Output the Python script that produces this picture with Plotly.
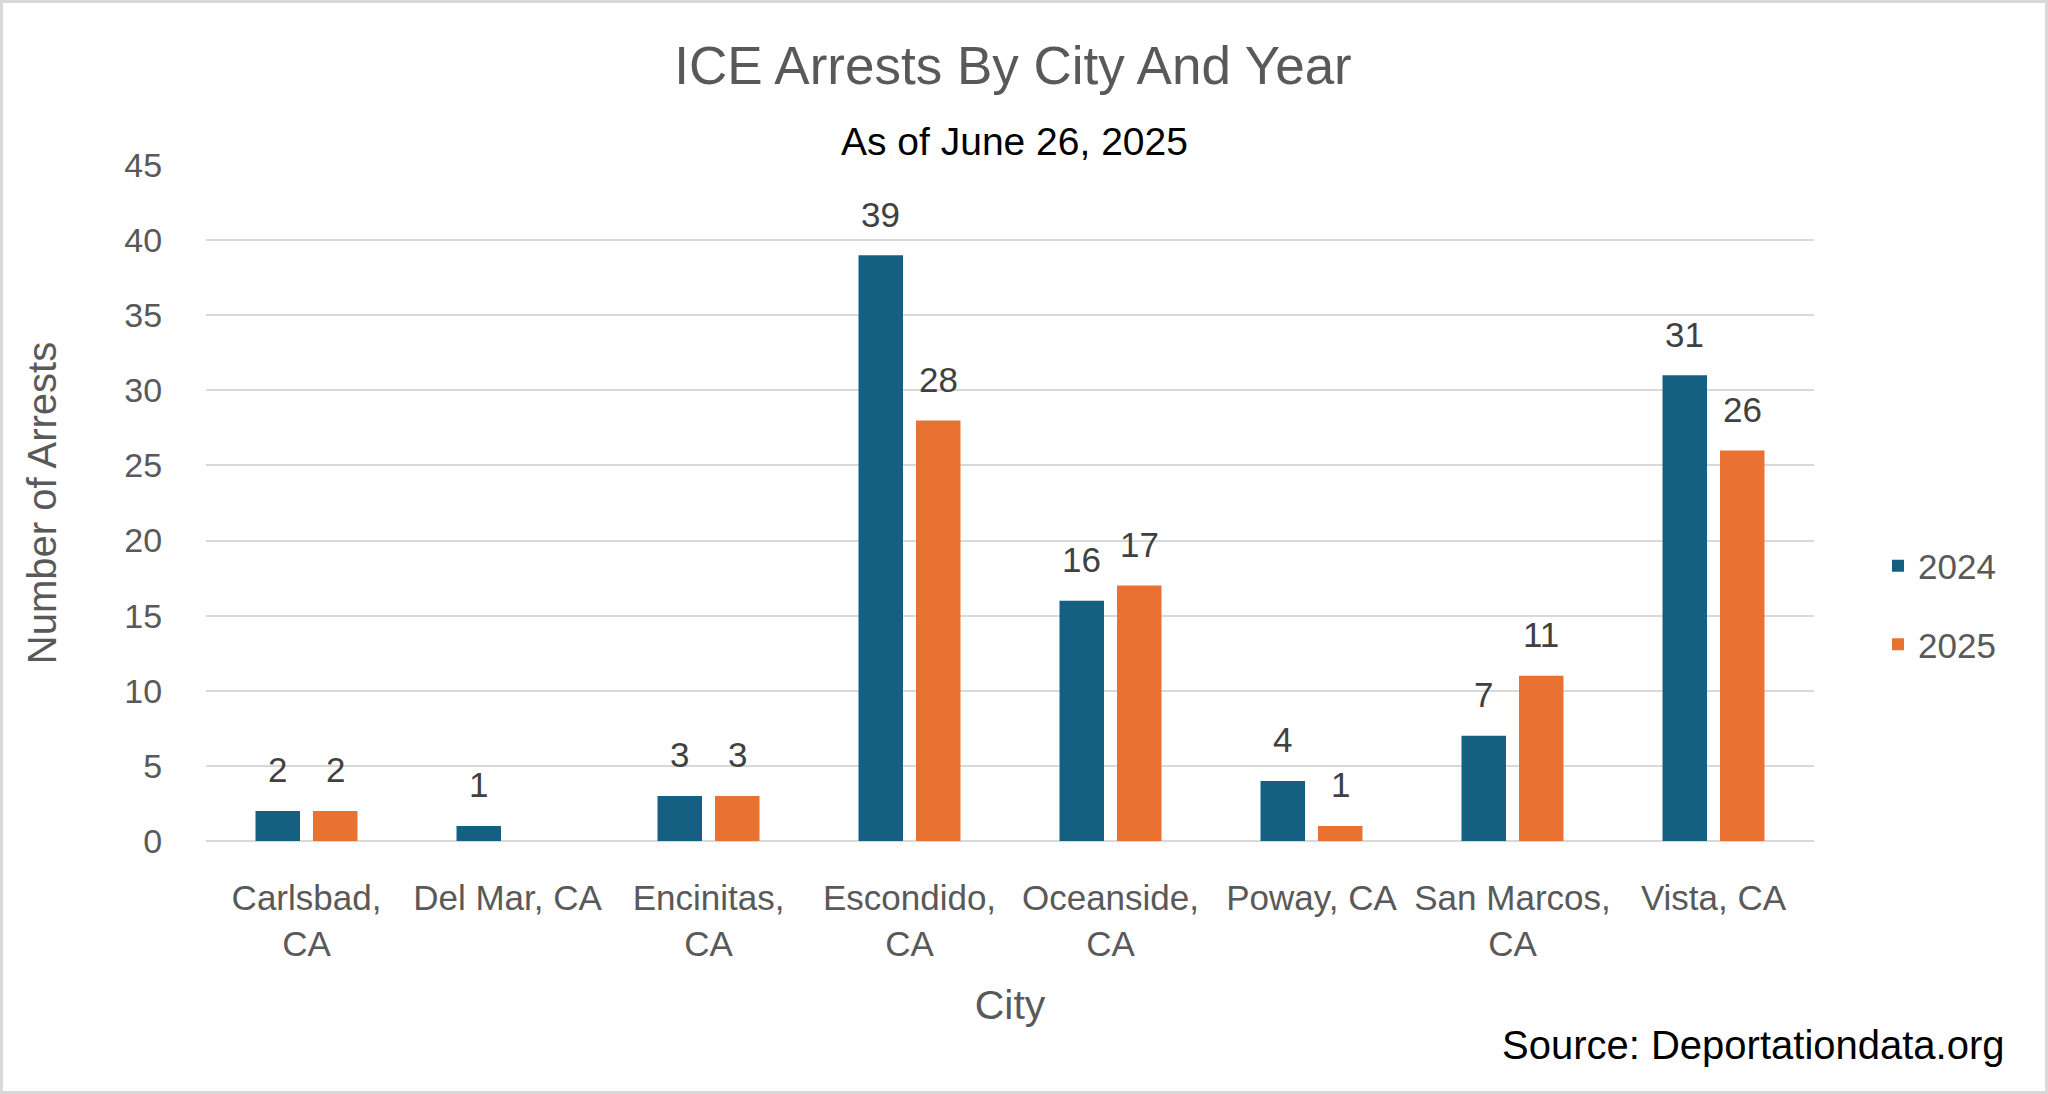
import plotly.graph_objects as go

cities = ["Carlsbad,<br>CA", "Del Mar, CA", "Encinitas,<br>CA", "Escondido,<br>CA",
          "Oceanside,<br>CA", "Poway, CA", "San Marcos,<br>CA", "Vista, CA"]
arrests_2024 = [2, 1, 3, 39, 16, 4, 7, 31]
arrests_2025 = [2, None, 3, 28, 17, 1, 11, 26]
series_names = ["2024", "2025"]
colors = ["#156082", "#E97132"]

FONT = "Liberation Sans, Arial, sans-serif"
GRAY = "#595959"

# plot area in pixels
L, R, T, B = 206, 1814, 165, 841
W, H = 2048, 1094

fig = go.Figure()
for name, vals, col in zip(series_names, [arrests_2024, arrests_2025], colors):
    fig.add_trace(go.Bar(
        x=cities, y=vals, name=name, marker=dict(color=col, line=dict(width=0)),
        legendgroup=name, hoverinfo="x+y"))

# data labels
shifts = [-28.75, 28.75]
annotations = []
for vals, xs in zip([arrests_2024, arrests_2025], shifts):
    for c, v in zip(cities, vals):
        if v is None:
            continue
        annotations.append(dict(
            x=c, y=v, xref="x", yref="y", text=str(v), showarrow=False,
            xshift=xs, yshift=41, yanchor="middle",
            font=dict(family=FONT, size=35, color="#404040")))

# subtitle
annotations.append(dict(
    x=(1014 - L) / (R - L), y=(B - 141) / (B - T), xref="paper", yref="paper",
    text="As of June 26, 2025", showarrow=False, xanchor="center", yanchor="middle",
    font=dict(family=FONT, size=39, color="#000000")))
# source
annotations.append(dict(
    x=(2007 - L) / (R - L), y=(B - 1045) / (B - T), xref="paper", yref="paper",
    text="Source: Deportationdata.org", showarrow=False, xanchor="right", yanchor="middle",
    font=dict(family=FONT, size=40, color="#000000")))

shapes = [dict(
    type="rect", xref="paper", yref="paper",
    x0=(1.5 - L) / (R - L), x1=(W - 1.5 - L) / (R - L),
    y0=(B - (H - 1.5)) / (B - T), y1=(B - 1.5) / (B - T),
    line=dict(color="#D9D9D9", width=3), fillcolor="rgba(0,0,0,0)", layer="below")]

fig.update_layout(
    width=W, height=H,
    margin=dict(l=L, r=W - R, t=T, b=H - B, autoexpand=False),
    paper_bgcolor="white", plot_bgcolor="white",
    barmode="group", bargap=0.428, bargroupgap=0.226,
    title=dict(text="ICE Arrests By City And Year", x=1013 / W, y=1 - 65 / H,
               xref="container", yref="container", xanchor="center", yanchor="middle",
               font=dict(family=FONT, size=53, color=GRAY)),
    font=dict(family=FONT, color=GRAY),
    legend=dict(x=(1878 - L) / (R - L), y=(B - 605) / (B - T), xanchor="left", yanchor="middle",
                font=dict(family=FONT, size=35, color=GRAY),
                traceorder="grouped", tracegroupgap=30, bgcolor="rgba(0,0,0,0)"),
    annotations=annotations, shapes=shapes,
    xaxis=dict(
        title=dict(text="City", font=dict(family=FONT, size=41, color=GRAY), standoff=28),
        tickfont=dict(family=FONT, size=35, color=GRAY),
        ticks="outside", ticklen=26, tickcolor="rgba(0,0,0,0)",
        showline=False, showgrid=False, automargin=False),
    yaxis=dict(
        title=dict(text="Number of Arrests", font=dict(family=FONT, size=40, color=GRAY), standoff=55),
        tickfont=dict(family=FONT, size=34, color=GRAY),
        range=[0, 45], dtick=5, tick0=0,
        ticks="outside", ticklen=36, tickcolor="rgba(0,0,0,0)",
        showgrid=True, gridcolor="#D9D9D9", gridwidth=1.5,
        zeroline=True, zerolinecolor="#D9D9D9", zerolinewidth=2,
        showline=False, automargin=False),
)

fig.write_html("out.html")
